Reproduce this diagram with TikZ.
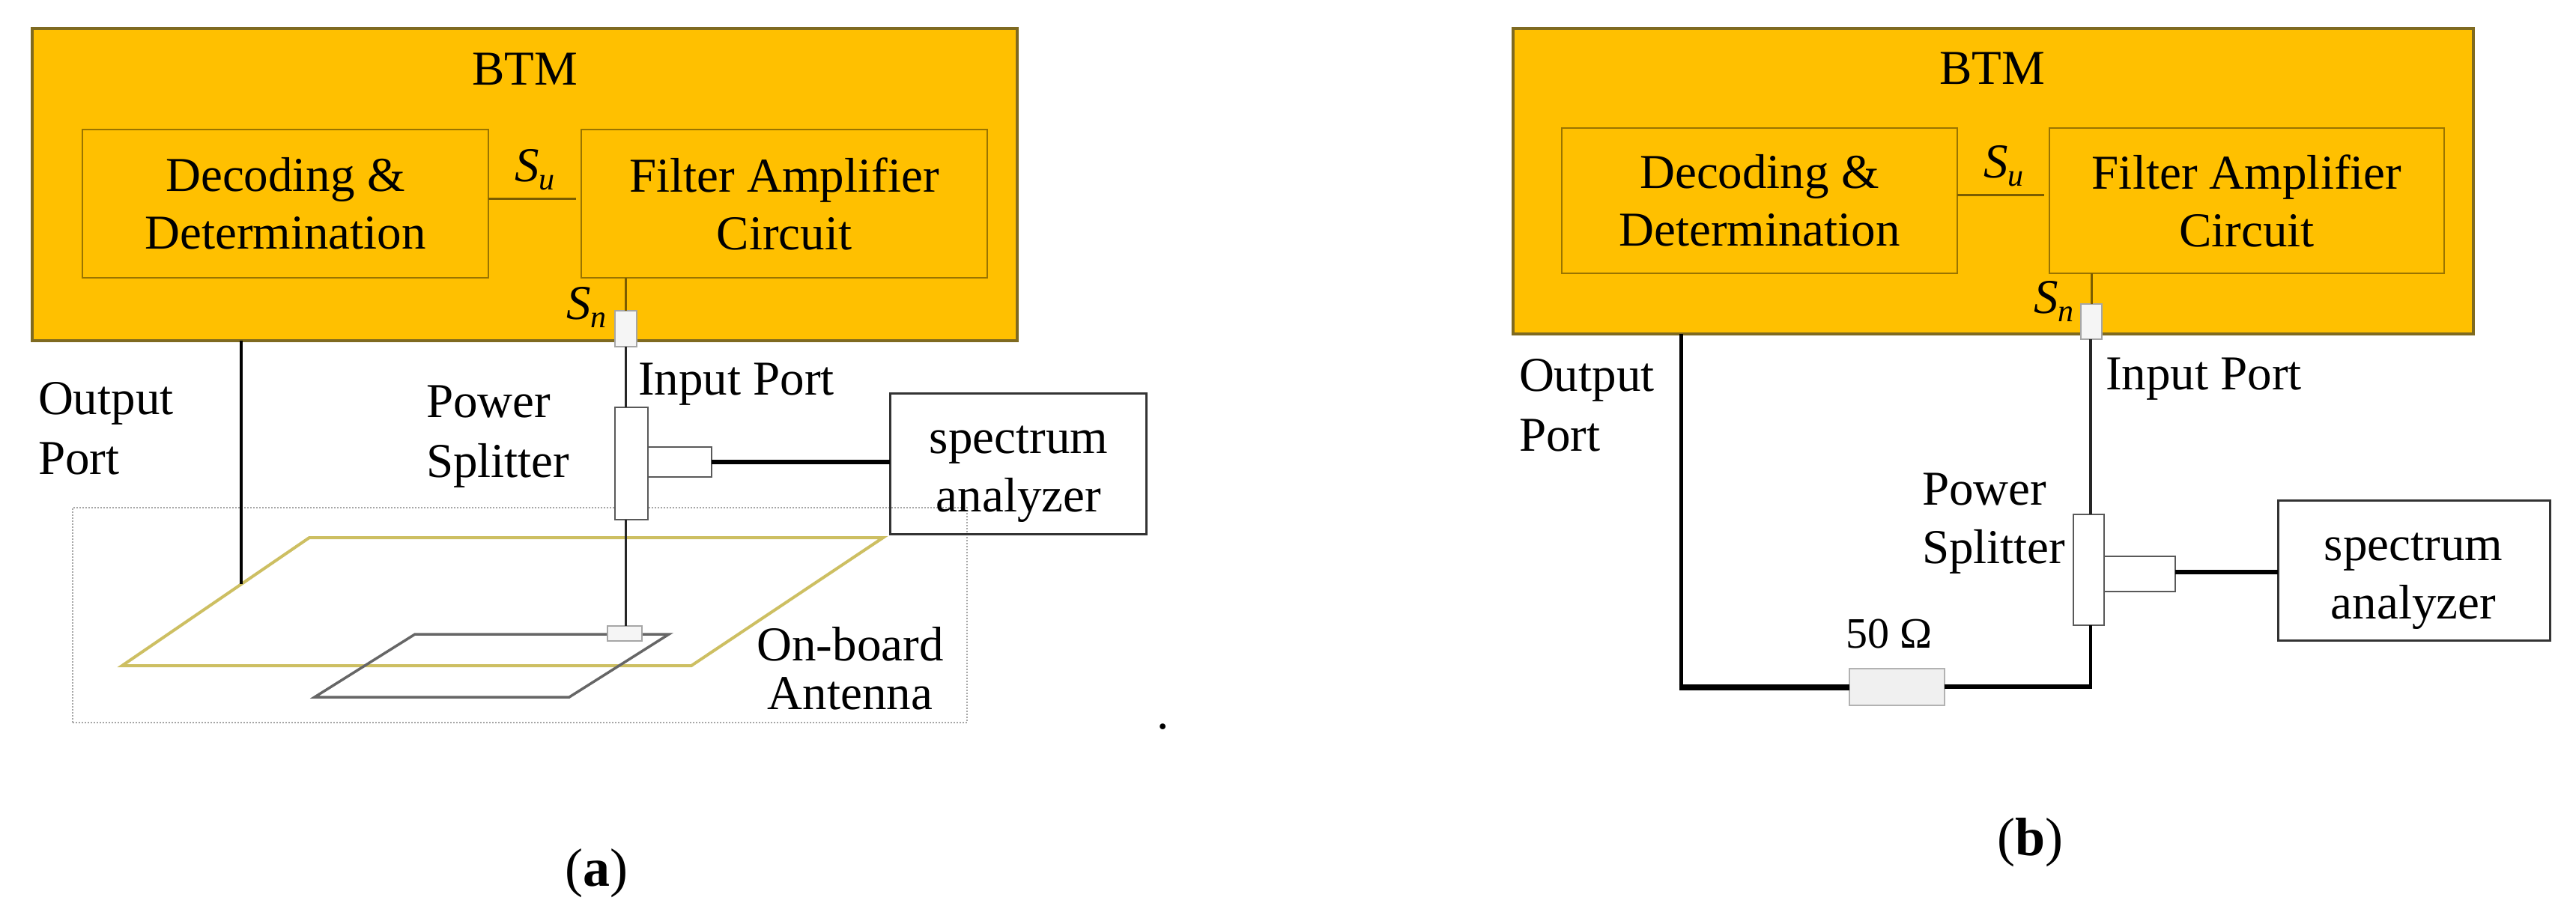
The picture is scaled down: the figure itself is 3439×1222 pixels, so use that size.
\documentclass[tikz,border=0pt]{standalone}
\usepackage{fontspec}
\setmainfont{Liberation Serif}
\definecolor{btmfill}{HTML}{FFC000}
\definecolor{btmedge}{HTML}{7F6A20}
\definecolor{innerb}{HTML}{9A7400}
\definecolor{antyel}{HTML}{CDBF62}
\definecolor{antgray}{HTML}{666666}
\newcommand{\txtf}[1]{\fontsize{65}{#1}\selectfont}
\newcommand{\symS}[1]{\textit{S}\raisebox{-11pt}{\fontsize{42}{42}\selectfont\textit{#1}}}
% style, name, x1, y1, x2, y2, text
\newcommand{\rectnode}[7]{%
  \pgfmathsetmacro\rw{#5-#3}\pgfmathsetmacro\rh{#6-#4}%
  \pgfmathsetmacro\rx{(#3+#5)/2}\pgfmathsetmacro\ry{(#4+#6)/2}%
  \node[rectangle,inner sep=0pt,outer sep=0pt,minimum width=\rw pt,minimum height=\rh pt,#1] (#2) at (\rx,\ry) {#7};}
\tikzset{
  btmbox/.style={draw=btmedge,fill=btmfill,line width=3.5pt},
  innerbox/.style={draw=innerb,line width=2.5pt,align=center,font=\txtf{77}},
  portbox/.style={draw=gray!70,fill=white!96!black,line width=2.5pt},
  splitbox/.style={draw=black!65,fill=white,line width=2.5pt},
  anabox/.style={draw=black!80,line width=3pt},
  resbox/.style={draw=gray!60,fill=white!94!black,line width=2.5pt},
  lab/.style={inner sep=0pt,outer sep=0pt,font=\txtf{80},align=left},
  clab/.style={inner sep=0pt,outer sep=0pt,font=\txtf{78},align=center},
  capl/.style={inner sep=0pt,outer sep=0pt,font=\fontsize{72}{72}\selectfont},
  inwire/.style={draw=innerb!80!black,line width=3pt},
  wire/.style={draw=black,line width=4pt},
  thinwire/.style={draw=black!85,line width=3pt},
  antframe/.style={draw=gray!70,line width=2pt,dash pattern=on 2pt off 2pt},
}
\begin{document}
\begin{tikzpicture}[x=1pt,y=-1pt]
\path[use as bounding box,fill=white] (0,0) rectangle (3439,1222);
% ---------- panel (a)
\rectnode{btmbox}{btma}{43}{38}{1358}{455}{}
\node[lab,font=\txtf{65}] (btmla) at (701,92) {BTM};
\rectnode{innerbox}{deca}{110}{173}{652}{371}{Decoding \&\\Determination}
\rectnode{innerbox}{fila}{776}{173}{1318}{371}{Filter Amplifier\\Circuit}
\coordinate (suenda) at (769,266);
\draw[inwire] (deca.east |- suenda) -- (suenda);
\node[lab] (sula) at (714,227) {\symS{u}};
\node[lab] (snla) at (783,410) {\symS{n}};
\rectnode{portbox}{porta}{821}{415}{850}{463}{}
\draw[inwire] (porta.north) -- (porta.north |- fila.south);
% antenna
\rectnode{antframe}{framea}{97}{678}{1291}{965}{}
\coordinate (ya1) at (413,718); \coordinate (ya2) at (1179,718);
\coordinate (ya3) at (923,889); \coordinate (ya4) at (163,889);
\draw[draw=antyel,line width=4pt,line join=miter] (ya1) -- (ya2) -- (ya3) -- (ya4) -- cycle;
\coordinate (ga1) at (554,847); \coordinate (ga2) at (893,847);
\coordinate (ga3) at (760,931); \coordinate (ga4) at (420,931);
\draw[draw=antgray,line width=3.5pt] (ga1) -- (ga2) -- (ga3) -- (ga4) -- cycle;
\coordinate (outa) at (322,780);
\draw[wire] (btma.south -| outa) -- (outa);
\rectnode{splitbox}{spla}{821}{544}{865}{694}{}
\draw[thinwire] (porta.south) -- (porta.south |- spla.north);
\rectnode{portbox}{anta}{811}{836}{857}{856}{}
\draw[thinwire] (anta.north -| porta) -- (porta |- spla.south);
\rectnode{splitbox}{stba}{865}{597}{950}{637}{}
\rectnode{anabox}{anaa}{1188}{525}{1530}{713}{}
\draw[wire,line width=6pt] (stba.east) -- (anaa.west |- stba.east);
\node[clab] (anala) at (1360,633) {spectrum\\analyzer};
\node[lab,anchor=west] (outla) at (51,572) {Output\\Port};
\node[lab,anchor=west] (powla) at (569,583) {Power\\Splitter};
\node[lab,anchor=west,font=\txtf{65}] (inla) at (852,513) {Input Port};
\node[clab,font=\txtf{65}] (onla) at (1135,860) {On-board};
\node[clab,font=\txtf{65}] (anla) at (1135,926) {Antenna};
\node[capl] (capa) at (796,1166) {(\textbf{a})};
\node[lab,font=\txtf{65},anchor=base] (dota) at (1553,973) {.};
% ---------- panel (b)
\rectnode{btmbox}{btmb}{2020}{38}{3302}{446}{}
\node[lab,font=\txtf{65}] (btmlb) at (2660,91) {BTM};
\rectnode{innerbox}{decb}{2085}{171}{2613}{365}{Decoding \&\\Determination}
\rectnode{innerbox}{filb}{2736}{171}{3263}{365}{Filter Amplifier\\Circuit}
\coordinate (suendb) at (2729,261);
\draw[inwire] (decb.east |- suendb) -- (suendb);
\node[lab] (sulb) at (2675,222) {\symS{u}};
\node[lab] (snlb) at (2742,402) {\symS{n}};
\rectnode{portbox}{portb}{2778}{406}{2806}{453}{}
\draw[inwire] (portb.north) -- (portb.north |- filb.south);
\rectnode{splitbox}{splb}{2768}{687}{2809}{835}{}
\rectnode{resbox}{resb}{2469}{893}{2596}{942}{}
\coordinate (cornl) at (2244,918);
\coordinate (cornr) at (2791,917);
\draw[wire,line width=5pt] (btmb.south -| cornl) -- (cornl);
\draw[wire,line width=8pt] (cornl) ++(-2.5,0) -- (resb.west |- cornl);
\draw[wire,line width=5.5pt] (resb.east |- cornr) -- (cornr);
\draw[wire] (cornr) ++(0,3) -- (splb.south -| cornr);
\draw[thinwire,line width=4pt] (portb.south -| cornr) -- (splb.north -| cornr);
\rectnode{splitbox}{stbb}{2809}{743}{2904}{790}{}
\rectnode{anabox}{anab}{3041}{668}{3404}{855}{}
\coordinate (anwb) at (3041,764);
\draw[wire,line width=6pt] (stbb.east |- anwb) -- (anwb);
\node[clab] (analb) at (3222,776) {spectrum\\analyzer};
\node[lab,anchor=west] (outlb) at (2028,541) {Output\\Port};
\node[lab,anchor=west,font=\txtf{78}] (powlb) at (2566,699) {Power\\Splitter};
\node[lab,anchor=west,font=\txtf{65}] (inlb) at (2811,506) {Input Port};
\node[lab,font=\fontsize{58}{58}\selectfont] (ohm) at (2522,846) {50 Ω};
\node[capl] (capb) at (2710,1125) {(\textbf{b})};
\end{tikzpicture}
\end{document}
